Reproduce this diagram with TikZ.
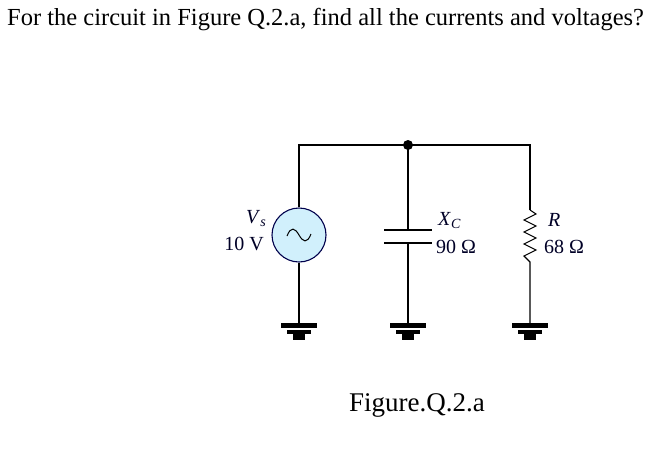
\documentclass[tikz,border=0pt]{standalone}
\usepackage{fontspec}
\setmainfont{Liberation Serif}
\begin{document}
\begin{tikzpicture}[x=1pt,y=-1pt,
  wire/.style={line width=1.1pt},
  lbl/.style={font=\fontsize{20}{21}\selectfont, inner sep=0pt, text=black!85!blue},
  gbar/.style={fill=black, draw=none}]
\useasboundingbox (0,0) rectangle (670,448);
\node[anchor=west, font=\fontsize{24.5}{26}\selectfont, inner sep=0pt] (title) at (7,20) {For the circuit in Figure Q.2.a, find all the currents and voltages?};
\coordinate (tl) at (299,145); \coordinate (tm) at (408,145); \coordinate (tr) at (530,145);
\coordinate (gl) at (299,323); \coordinate (gm) at (408,323); \coordinate (gr) at (530,323);
\node[circle, draw=black!70!blue, line width=1.1pt, fill=cyan!18, minimum size=54pt, inner sep=0pt] (src) at (299,235) {};
\draw[line width=1pt] (287,236) .. controls (291,226) and (295,228) .. (299,235) .. controls (303,242) and (307,244) .. (311,234);
\draw[wire] (src.north) -- (tl) -- (tr) -- (530,210);
\draw[wire] (src.south) -- (gl);
\draw[wire] (tm) -- (408,230);
\draw[wire] (408,243) -- (gm);
\draw[line width=2pt] (384,230) -- (432,230) (384,243) -- (432,243);
\draw[wire,line join=miter] (530,210) -- (536,214) -- (524,220) -- (536,226) -- (524,232) -- (536,238) -- (524,244) -- (536,250) -- (524,256) -- (530,262) -- (gr);
\fill (tm) circle (5pt);
\foreach \g in {gl,gm,gr}{
  \fill[gbar] ([xshift=-18pt]\g) rectangle ([xshift=18pt,yshift=-5pt]\g);
  \fill[gbar] ([xshift=-12pt,yshift=-7pt]\g) rectangle ([xshift=12pt,yshift=-11pt]\g);
  \fill[gbar] ([xshift=-6pt,yshift=-11pt]\g) rectangle ([xshift=6pt,yshift=-17pt]\g);
}
\node[lbl, anchor=east] (vs) at (266,219) {\textit{V}\raisebox{-3pt}{\fontsize{14}{14}\selectfont\textit{s}}};
\node[lbl, anchor=east] (vv) at (264,244) {10 V};
\node[lbl, anchor=west] (xc) at (438,221) {\textit{X}\raisebox{-3pt}{\fontsize{14}{14}\selectfont\textit{C}}};
\node[lbl, anchor=west] (xv) at (436,247) {90 Ω};
\node[lbl, anchor=west] (r) at (548,220) {\textit{R}};
\node[lbl, anchor=west] (rv) at (544,247) {68 Ω};
\node[font=\fontsize{27}{29}\selectfont, inner sep=0pt] (cap) at (417,405) {Figure.Q.2.a};
\end{tikzpicture}
\end{document}
